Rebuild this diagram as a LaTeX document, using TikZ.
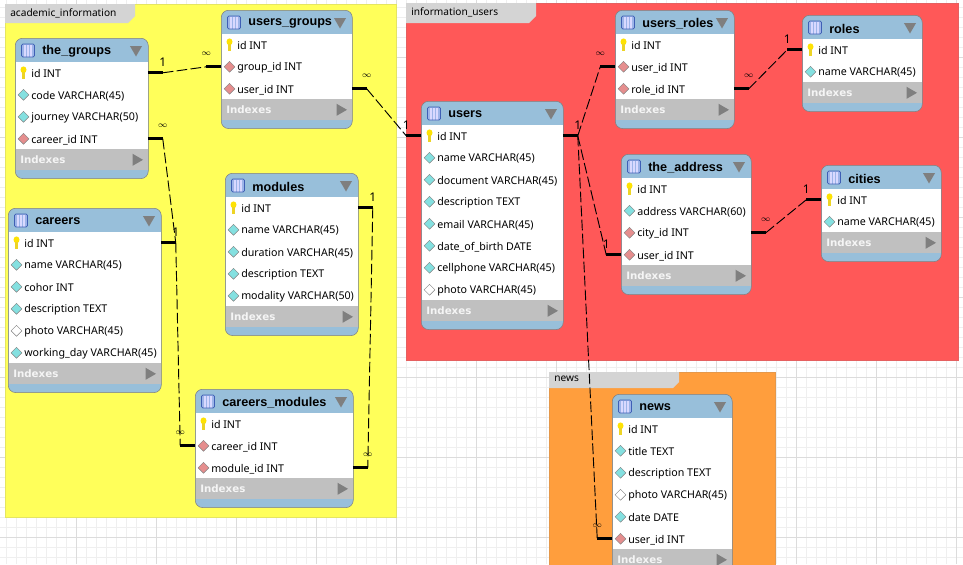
\documentclass[tikz,border=0pt]{standalone}
\usepackage{fontspec}
\setmainfont{Noto Sans}
\newfontfamily\headfont{DejaVu Sans}
\newfontfamily\titlefont{Liberation Sans}
\usetikzlibrary{shapes.geometric}
\definecolor{gridminor}{HTML}{EFEFEF}
\definecolor{gridmajor}{HTML}{DCDCDC}
\definecolor{academic}{HTML}{FFFF5A}
\definecolor{information}{HTML}{FF5858}
\definecolor{newsfill}{HTML}{FF9E3D}
\definecolor{tabgray}{HTML}{D4D4D4}
\definecolor{headblue}{HTML}{98BFDA}
\definecolor{indexgray}{HTML}{C0C0C0}
\definecolor{arrowgray}{HTML}{7F7F7F}
\definecolor{iconblue}{HTML}{9DB4E8}
\definecolor{iconline}{HTML}{3F5FB5}
\definecolor{fieldcyan}{HTML}{84E0E0}
\definecolor{fieldred}{HTML}{E58E8E}
\def\px{0.75pt}
\tikzset{
    layerbox/.style={draw=#1!80!gray, fill=#1, line width=0.75pt},
    tabbox/.style={fill=tabgray},
    layertitle/.style={anchor=west, inner sep=0pt, font=\fontsize{7.6}{10}\selectfont},
    tablebody/.style={draw=gray, fill=headblue, rounded corners=5.5pt, line width=0.4pt, anchor=north west, inner sep=0pt},
    rowbox/.style={fill=white, inner sep=0pt, minimum height=22*\px},
    indexbox/.style={fill=indexgray, inner sep=0pt, minimum height=21*\px},
    titletext/.style={anchor=west, inner sep=0pt, font=\titlefont\fontsize{9.5}{11}\selectfont\bfseries},
    rowtext/.style={anchor=west, inner sep=0pt, font=\fontsize{8}{10}\selectfont},
    indextext/.style={anchor=west, inner sep=0pt, text=white!92!gray, font=\headfont\fontsize{7.7}{10}\selectfont\bfseries},
    tableicon/.style={draw=iconline, fill=iconblue, rounded corners=1pt, minimum size=13*\px, inner sep=0pt, line width=0.6pt,
        path picture={\draw[white!85!blue, line width=0.9pt] (-3,-6) -- (-3,7) (0,-6) -- (0,7) (3,-6) -- (3,7);}},
    menuarrow/.style={regular polygon, regular polygon sides=3, fill=arrowgray, inner sep=0pt, minimum size=14*\px, shape border rotate=180},
    indexarrow/.style={regular polygon, regular polygon sides=3, fill=arrowgray, inner sep=0pt, minimum size=14*\px, shape border rotate=-90},
    iconk/.style={minimum width=7*\px, minimum height=13*\px, inner sep=0pt,
        path picture={\fill[yellow!85!orange] (0,-3) ellipse (3 and 3.4); \fill[yellow!70!brown] (-1.2,-1) rectangle (1.2,6);}},
    iconc/.style={diamond, draw=gray, fill=fieldcyan, minimum size=11*\px, inner sep=0pt, line width=0.3pt},
    iconr/.style={diamond, draw=gray, fill=fieldred, minimum size=11*\px, inner sep=0pt, line width=0.3pt},
    iconw/.style={diamond, draw=gray, fill=white, minimum size=11*\px, inner sep=0pt, line width=0.3pt},
    stub/.style={line width=2.3pt},
    link/.style={line width=0.7pt, dash pattern=on 8pt off 2.5pt},
    onelabel/.style={above=3.5pt, inner sep=0pt, font=\fontsize{9}{10}\selectfont},
    manylabel/.style={above=7pt, inner sep=0pt, font=\fontsize{6}{7}\selectfont},
}
\newcommand{\erdtable}[7]{
    \pgfmathsetmacro\tableh{52.3+22*#5}
    \node[tablebody, minimum width=#4*\px, minimum height=\tableh*\px] (#1) at (#2,#3) {};
    \foreach \kind/\txt [count=\i] in {#7} {
        \node[rowbox, minimum width={(#4-1)*\px}] (#1-\i) at ({#2+#4/2},{#3+34.8+22*(\i-1)}) {};
        \node[icon\kind] (#1-\i-icon) at ({#2+8.5},{#3+34.8+22*(\i-1)}) {};
        \node[rowtext] (#1-\i-text) at ({#2+16},{#3+35.8+22*(\i-1)}) {\txt};
    }
    \node[indexbox, minimum width={(#4-1)*\px}] (#1-idx) at ({#2+#4/2},{#3+33.8+22*#5}) {};
    \node[indextext] (#1-idxt) at ({#2+5},{#3+33.8+22*#5}) {Indexes};
    \node[indexarrow] (#1-idxa) at ({#2+#4-12},{#3+33.8+22*#5}) {};
    \node[tableicon] (#1-icon) at ({#2+13},{#3+12.5}) {};
    \node[titletext] (#1-title) at ({#2+27},{#3+13.5}) {#6};
    \node[menuarrow] (#1-menu) at ({#2+#4-12},{#3+11.5}) {};
}
\begin{document}
\begin{tikzpicture}[x=0.75pt, y=-0.75pt]
    \useasboundingbox (0,0) rectangle (963,564);
    \clip (0,0) rectangle (963,564);
    \fill[white] (0,0) rectangle (963,564);
    \foreach \gx in {6.7,16.7,...,956.7} \draw[gridminor, line width=0.5pt] (\gx,0) -- (\gx,564);
    \foreach \gy in {7,17,...,557} \draw[gridminor, line width=0.5pt] (0,\gy) -- (963,\gy);
    \foreach \gx in {76.7,156.7,...,956.7} \draw[gridmajor, line width=0.5pt] (\gx,0) -- (\gx,564);
    \foreach \gy in {57,137,...,537} \draw[gridmajor, line width=0.5pt] (0,\gy) -- (963,\gy);

    \filldraw[layerbox=academic] (5,4) rectangle ++(391,513);
    \filldraw[layerbox=information] (406,3) rectangle ++(552,357);
    \filldraw[layerbox=newsfill] (549,372) rectangle ++(226,200);
    \fill[tabbox] (5,4) -- ++(130,0) -- ++(0,12) -- ++(-7,7) -- ++(-123,0) -- cycle;
    \fill[tabbox] (406,3) -- ++(130,0) -- ++(0,13) -- ++(-7,7) -- ++(-123,0) -- cycle;
    \fill[tabbox] (549,372) -- ++(130,0) -- ++(0,10) -- ++(-6,6) -- ++(-124,0) -- cycle;
    \node[layertitle] (academic_title) at (10,13) {academic\_information};
    \node[layertitle] (information_title) at (411,12) {information\_users};
    \node[layertitle] (news_title) at (554,379) {news};

    \erdtable{the_groups}{15}{38}{133}{4}{the\_groups}{k/id INT, c/code VARCHAR(45), c/journey VARCHAR(50), r/career\_id INT}
    \erdtable{users_groups}{221}{10}{131}{3}{users\_groups}{k/id INT, r/group\_id INT, r/user\_id INT}
    \erdtable{careers}{8}{208}{153}{6}{careers}{k/id INT, c/name VARCHAR(45), c/cohor INT, c/description TEXT, w/photo VARCHAR(45), c/working\_day VARCHAR(45)}
    \erdtable{modules}{225}{173}{133}{5}{modules}{k/id INT, c/name VARCHAR(45), c/duration VARCHAR(45), c/description TEXT, c/modality VARCHAR(50)}
    \erdtable{careers_modules}{195}{389}{158}{3}{careers\_modules}{k/id INT, r/career\_id INT, r/module\_id INT}
    \erdtable{users}{421}{101}{142}{8}{users}{k/id INT, c/name VARCHAR(45), c/document VARCHAR(45), c/description TEXT, c/email VARCHAR(45), c/date\_of\_birth DATE, c/cellphone VARCHAR(45), w/photo VARCHAR(45)}
    \erdtable{users_roles}{615}{10}{119}{3}{users\_roles}{k/id INT, r/user\_id INT, r/role\_id INT}
    \erdtable{roles}{802}{15}{120}{2}{roles}{k/id INT, c/name VARCHAR(45)}
    \erdtable{the_address}{621}{154}{130}{4}{the\_address}{k/id INT, c/address VARCHAR(60), r/city\_id INT, r/user\_id INT}
    \erdtable{cities}{821}{165}{120}{2}{cities}{k/id INT, c/name VARCHAR(45)}
    \erdtable{news}{612}{394}{120}{6}{news}{k/id INT, c/title TEXT, c/description TEXT, w/photo VARCHAR(45), c/date DATE, r/user\_id INT}

    \draw[stub] (the_groups-1.east) -- ++(15,0) coordinate (groups_one) node[onelabel] (groups_one_l) {1};
    \draw[stub] (users_groups-2.west) -- ++(-15,0) coordinate (ug_group) node[manylabel] (ug_group_l) {$\infty$};
    \draw[link] (groups_one) -- (ug_group);
    \draw[stub] (the_groups-4.east) -- ++(15,0) coordinate (groups_career) node[manylabel] (groups_career_l) {$\infty$};
    \draw[stub] (careers-1.east) -- ++(15,0) coordinate (careers_one) node[onelabel] (careers_one_l) {1};
    \draw[link] (groups_career) -- (careers_one);
    \draw[stub] (careers_modules-2.west) -- ++(-15,0) coordinate (cm_career) node[manylabel] (cm_career_l) {$\infty$};
    \draw[link] (careers_one) -- (cm_career);
    \draw[stub] (modules-1.east) -- ++(15,0) coordinate (modules_one) node[onelabel] (modules_one_l) {1};
    \draw[stub] (careers_modules-3.east) -- ++(15,0) coordinate (cm_module) node[manylabel] (cm_module_l) {$\infty$};
    \draw[link] (modules_one) -- (cm_module);
    \draw[stub] (users_groups-3.east) -- ++(15,0) coordinate (ug_user) node[manylabel] (ug_user_l) {$\infty$};
    \draw[stub] (users-1.west) -- ++(-15,0) coordinate (users_in) node[onelabel] (users_in_l) {1};
    \draw[link] (ug_user) -- (users_in);
    \draw[stub] (users-1.east) -- ++(15,0) coordinate (users_out) node[onelabel] (users_out_l) {1};
    \draw[stub] (users_roles-2.west) -- ++(-15,0) coordinate (ur_user) node[manylabel] (ur_user_l) {$\infty$};
    \draw[link] (users_out) -- (ur_user);
    \draw[stub] (the_address-4.west) -- ++(-15,0) coordinate (addr_user) node[onelabel] (addr_user_l) {1};
    \draw[link] (users_out) -- (addr_user);
    \draw[stub] (news-6.west) -- ++(-15,0) coordinate (news_user) node[manylabel] (news_user_l) {$\infty$};
    \draw[link] (users_out) -- (news_user);
    \draw[stub] (users_roles-3.east) -- ++(15,0) coordinate (ur_role) node[manylabel] (ur_role_l) {$\infty$};
    \draw[stub] (roles-1.west) -- ++(-15,0) coordinate (roles_one) node[onelabel] (roles_one_l) {1};
    \draw[link] (ur_role) -- (roles_one);
    \draw[stub] (the_address-3.east) -- ++(15,0) coordinate (addr_city) node[manylabel] (addr_city_l) {$\infty$};
    \draw[stub] (cities-1.west) -- ++(-15,0) coordinate (cities_one) node[onelabel] (cities_one_l) {1};
    \draw[link] (addr_city) -- (cities_one);
\end{tikzpicture}
\end{document}
